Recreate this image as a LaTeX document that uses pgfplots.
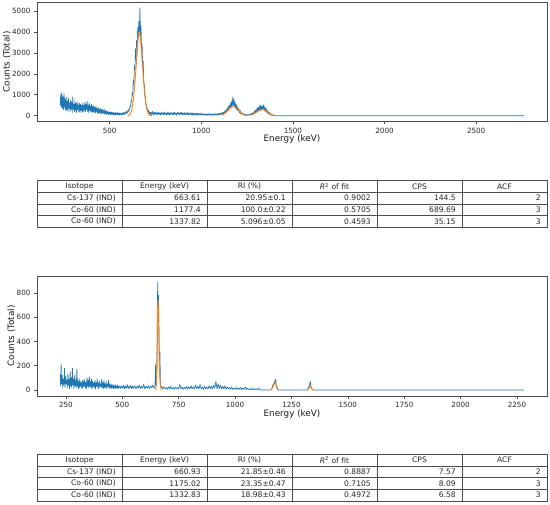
\documentclass[border=0pt]{standalone}
\usepackage{fontspec}
\setmainfont{DejaVu Sans}
\usepackage{pgfplots}
\pgfplotsset{compat=1.18}
\definecolor{mblue}{RGB}{31,119,180}
\definecolor{morange}{RGB}{255,127,14}
\pgfplotsset{
 spec/.style={
  scale only axis, width=510pt,
  axis line style={black!70, line width=0.6pt},
  tick style={black!70, line width=0.6pt},
  tick align=outside, major tick length=3pt,
  xtick pos=bottom, ytick pos=left,
  ticklabel style={font=\fontsize{7.2}{8}\selectfont, black!85},
  label style={font=\fontsize{8.8}{10}\selectfont, black!90},
  /pgf/number format/assume math mode=true,
  /pgf/number format/set thousands separator={},
  scaled ticks=false,
  xlabel={Energy (keV)}, ylabel={Counts (Total)},
  xlabel style={yshift=5.5pt},
  ylabel style={yshift=-5.5pt},
  clip=true,
 },
 bl/.style={mblue, line width=0.7pt, line join=round},
 og/.style={morange, line width=0.9pt, line join=round},
}
\tikzset{tab/.style={font=\fontsize{7.6}{9}\selectfont, text=black!85, inner sep=0pt}}
\begin{document}
\begin{tikzpicture}[x=1pt,y=1pt]
\path[use as bounding box] (0pt,0pt) rectangle (550pt,-505pt);
% ---------------- top spectrum ----------------
\begin{axis}[spec, at={(37pt,-121.2pt)}, anchor=south west, height=118.6pt,
  xmin=103.5, xmax=2886.5, ymin=-262, ymax=5400,
  xtick={500,1000,1500,2000,2500}, ytick={0,1000,2000,3000,4000,5000}]
\addplot[bl] coordinates {
(230,500)(233,1000)(236,400)(239,1100)(242,350)(245,900)(248,300)(251,1050)(254,400)(257,800)
(260,250)(263,900)(266,300)(269,700)(272,200)(275,850)(278,350)(281,600)(284,200)(287,750)
(290,300)(293,650)(296,150)(299,900)(302,300)(305,550)(308,200)(311,700)(314,250)(317,600)
(320,150)(323,650)(326,300)(329,500)(332,200)(335,600)(338,150)(341,550)(344,250)(347,500)
(350,150)(353,600)(356,200)(359,500)(362,250)(365,650)(368,200)(371,550)(374,300)(377,700)
(380,200)(383,500)(386,150)(389,600)(392,250)(395,450)(398,150)(401,550)(404,200)(407,450)
(410,150)(413,500)(416,200)(419,400)(422,120)(425,450)(428,200)(431,350)(434,100)(437,400)
(440,150)(443,300)(446,100)(449,350)(452,120)(455,280)(458,80)(461,300)(464,130)(467,250)
(470,80)(473,300)(476,100)(479,220)(482,60)(485,250)(488,90)(491,180)(494,50)(497,200)
(500,70)(503,160)(506,40)(509,180)(512,60)(515,140)(518,30)(521,170)(524,50)(527,130)
(530,40)(533,150)(536,30)(539,120)(542,60)(545,160)(548,40)(551,120)(554,30)(557,140)
(560,50)(563,110)(566,40)(569,130)(572,60)(575,160)(578,50)(581,130)(584,80)(587,200)
(590,100)(593,180)(596,130)(599,250)(602,200)(605,330)(608,280)(611,450)(614,420)(617,700)
(620,650)(623,1100)(626,1000)(629,1700)(632,1500)(635,2400)(638,2200)(641,3200)(644,2700)(647,3600)
(650,3300)(653,4200)(656,3800)(659,4500)(662,4000)(665,5150)(668,3800)(671,4300)(674,3200)(677,3400)
(680,2400)(683,2600)(686,1600)(689,1500)(692,1000)(695,900)(698,550)(701,500)(704,300)(707,320)
(710,180)(713,250)(716,100)(719,180)(722,60)(726,160)(730,50)(734,200)(738,60)(742,150)
(746,40)(750,180)(754,70)(758,140)(762,40)(766,170)(770,60)(774,130)(778,30)(782,160)
(786,70)(790,140)(794,40)(798,180)(802,60)(806,120)(810,40)(814,170)(818,50)(822,140)
(826,30)(830,160)(834,60)(838,130)(842,40)(846,150)(850,50)(854,180)(858,60)(862,120)
(866,30)(870,160)(874,70)(878,140)(882,40)(886,150)(890,60)(894,170)(898,50)(902,120)
(906,30)(910,150)(914,60)(918,130)(922,40)(926,160)(930,50)(934,110)(938,30)(942,140)
(946,50)(950,120)(954,20)(958,130)(962,40)(966,100)(970,30)(974,120)(978,20)(982,110)
(986,40)(990,100)(994,20)(998,130)(1002,30)(1006,90)(1010,20)(1014,100)(1018,30)(1022,80)
(1026,10)(1030,90)(1034,30)(1038,80)(1042,20)(1046,100)(1050,30)(1054,70)(1058,10)(1062,90)
(1066,30)(1070,80)(1074,20)(1078,100)(1082,40)(1086,90)(1090,30)(1094,110)(1098,40)(1102,120)
(1106,50)(1110,140)(1114,60)(1118,170)(1122,80)(1126,200)(1130,120)(1134,280)(1138,180)(1142,380)
(1146,250)(1150,480)(1154,320)(1158,600)(1162,380)(1166,700)(1169,450)(1172,900)(1175,520)(1178,780)
(1181,400)(1184,650)(1187,350)(1190,550)(1193,280)(1196,460)(1200,220)(1204,360)(1208,140)(1212,260)
(1216,80)(1220,170)(1224,50)(1228,110)(1232,30)(1236,80)(1240,20)(1244,60)(1248,10)(1252,50)
(1256,20)(1260,60)(1264,30)(1268,80)(1272,40)(1276,120)(1280,60)(1284,160)(1288,100)(1292,250)
(1296,150)(1300,320)(1304,180)(1308,400)(1312,220)(1316,480)(1320,240)(1324,520)(1328,260)(1332,460)
(1336,300)(1340,520)(1344,220)(1348,420)(1352,180)(1356,330)(1360,120)(1364,240)(1368,70)(1372,150)
(1376,40)(1380,90)(1384,20)(1388,50)(1392,10)(1396,20)(1400,0)(2760,0)
};
\addplot[og] coordinates {
(600,0)(610,60)(620,250)(630,800)(640,1800)(650,3000)(655,3600)(660,4000)(665,3900)(670,3500)
(680,2300)(690,1100)(700,400)(710,120)(720,20)(730,0)
};
\addplot[og] coordinates {
(1110,20)(1125,80)(1140,200)(1155,340)(1165,420)(1175,450)(1185,420)(1195,340)(1210,200)(1225,80)(1240,20)
};
\addplot[og] coordinates {
(1270,20)(1285,70)(1300,160)(1315,250)(1330,300)(1340,300)(1355,230)(1370,130)(1385,50)(1400,10)
};
\end{axis}
% ---------------- table 1 ----------------
\begin{scope}[black!70, line width=0.5pt]
\draw (37,-180.7) rectangle (547,-227.3);
\foreach \r in {1,2,3} \draw (37,{-180.7-11.65*\r}) -- (547,{-180.7-11.65*\r});
\foreach \c in {122,207,292,377,462} \draw (\c,-180.7) -- (\c,-227.3);
\end{scope}
\foreach \t [count=\i from 0] in {Isotope,Energy (keV),RI (\%),{\textit{R}\textsuperscript{2} of fit},CPS,ACF}
  \node[tab] at ({79.5+85*\i},-186.5) {\t};
\foreach \a/\b/\c/\d/\e/\f [count=\r] in {Cs-137 (IND)/663.61/20.95±0.1/0.9002/144.5/2, Co-60 (IND)/1177.4/100.0±0.22/0.5705/689.69/3, Co-60 (IND)/1337.82/5.096±0.05/0.4593/35.15/3}{
  \def\yy{-186.5-11.65*\r}
  \node[tab,anchor=east] at (116,\yy) {\a};
  \node[tab,anchor=east] at (201,\yy) {\b};
  \node[tab,anchor=east] at (286,\yy) {\c};
  \node[tab,anchor=east] at (371,\yy) {\d};
  \node[tab,anchor=east] at (456,\yy) {\e};
  \node[tab,anchor=east] at (541,\yy) {\f};
}
% ---------------- bottom spectrum ----------------
\begin{axis}[spec, at={(37pt,-396pt)}, anchor=south west, height=120pt,
  xmin=122, xmax=2383, ymin=-50, ymax=940,
  xtick={250,500,750,1000,1250,1500,1750,2000,2250}, ytick={0,200,400,600,800}]
\addplot[bl] coordinates {
(225,130)(227,30)(229,210)(231,50)(234,120)(236,20)(239,90)(241,40)(244,180)(246,20)
(249,110)(251,50)(254,80)(256,20)(259,130)(261,40)(264,90)(266,10)(269,150)(271,30)
(274,100)(276,20)(279,180)(281,40)(284,90)(286,10)(289,120)(291,30)(294,80)(296,20)
(299,170)(301,30)(304,70)(306,10)(309,90)(311,20)(314,70)(316,30)(319,60)(321,10)
(324,80)(326,20)(329,70)(331,30)(334,90)(336,20)(339,60)(341,10)(344,100)(346,30)
(349,80)(351,20)(354,110)(356,30)(359,70)(361,20)(364,90)(366,10)(369,70)(371,30)
(374,60)(376,20)(379,80)(381,10)(384,60)(386,30)(389,90)(391,20)(394,60)(396,10)
(399,70)(401,30)(404,50)(406,20)(409,90)(411,20)(414,60)(416,10)(419,80)(421,20)
(424,50)(426,20)(429,70)(431,10)(434,50)(436,30)(439,80)(441,10)(444,50)(446,20)
(449,40)(451,10)(454,50)(456,20)(459,40)(461,10)(464,35)(466,15)(469,45)(471,10)
(474,30)(476,15)(479,40)(481,10)(484,30)(486,15)(490,35)(494,10)(498,30)(502,15)
(506,40)(510,10)(514,30)(518,15)(522,45)(526,10)(530,30)(534,15)(538,40)(542,10)
(546,30)(550,15)(555,35)(560,10)(565,30)(570,15)(575,40)(580,10)(585,30)(590,15)
(595,45)(600,10)(605,30)(610,15)(615,35)(620,10)(625,30)(630,20)(635,40)(640,15)
(645,30)(648,210)(650,40)(653,80)(655,420)(657,890)(659,600)(661,780)(663,420)(665,150)
(667,310)(669,60)(672,20)(675,30)(680,10)(685,25)(690,8)(695,20)(700,5)(705,25)
(710,10)(715,30)(720,8)(725,20)(730,5)(735,25)(740,10)(745,20)(750,8)(755,45)
(760,10)(765,25)(770,5)(775,20)(780,10)(785,30)(790,8)(795,25)(800,10)(805,35)
(810,8)(815,25)(820,10)(825,40)(830,10)(835,30)(840,8)(845,45)(850,10)(855,25)
(860,5)(865,30)(870,10)(875,25)(880,8)(885,35)(890,10)(895,30)(900,8)(905,40)
(910,15)(915,70)(920,10)(925,50)(930,10)(935,40)(940,8)(945,30)(950,10)(955,35)
(960,5)(965,25)(970,8)(975,20)(980,5)(985,25)(990,5)(995,15)(1000,5)(1005,20)
(1010,3)(1015,15)(1020,5)(1025,20)(1030,3)(1035,15)(1040,5)(1045,25)(1050,3)(1055,15)
(1060,3)(1065,10)(1070,2)(1075,12)(1080,2)(1085,10)(1090,2)(1095,8)(1100,2)(1105,15)
(1110,0)(1160,0)(1165,20)(1168,45)(1171,30)(1174,70)(1177,50)(1180,90)(1183,40)(1186,10)
(1190,0)(1322,0)(1325,25)(1328,10)(1331,50)(1334,70)(1337,25)(1340,8)(1345,0)(2280,0)
};
\addplot[og] coordinates {
(645,0)(650,20)(653,150)(655,400)(657,680)(659,740)(661,620)(663,380)(665,160)(668,50)(672,5)(676,0)
};
\addplot[og] coordinates {
(1160,0)(1166,20)(1172,50)(1177,65)(1182,45)(1187,15)(1192,0)
};
\addplot[og] coordinates {
(1320,0)(1326,10)(1331,28)(1335,30)(1339,15)(1344,3)(1348,0)
};
\end{axis}
% ---------------- table 2 ----------------
\begin{scope}[black!70, line width=0.5pt]
\draw (37,-454.3) rectangle (547,-500.9);
\foreach \r in {1,2,3} \draw (37,{-454.3-11.65*\r}) -- (547,{-454.3-11.65*\r});
\foreach \c in {122,207,292,377,462} \draw (\c,-454.3) -- (\c,-500.9);
\end{scope}
\foreach \t [count=\i from 0] in {Isotope,Energy (keV),RI (\%),{\textit{R}\textsuperscript{2} of fit},CPS,ACF}
  \node[tab] at ({79.5+85*\i},-460.1) {\t};
\foreach \a/\b/\c/\d/\e/\f [count=\r] in {Cs-137 (IND)/660.93/21.85±0.46/0.8887/7.57/2, Co-60 (IND)/1175.02/23.35±0.47/0.7105/8.09/3, Co-60 (IND)/1332.83/18.98±0.43/0.4972/6.58/3}{
  \def\yy{-460.1-11.65*\r}
  \node[tab,anchor=east] at (116,\yy) {\a};
  \node[tab,anchor=east] at (201,\yy) {\b};
  \node[tab,anchor=east] at (286,\yy) {\c};
  \node[tab,anchor=east] at (371,\yy) {\d};
  \node[tab,anchor=east] at (456,\yy) {\e};
  \node[tab,anchor=east] at (541,\yy) {\f};
}
\end{tikzpicture}
\end{document}
